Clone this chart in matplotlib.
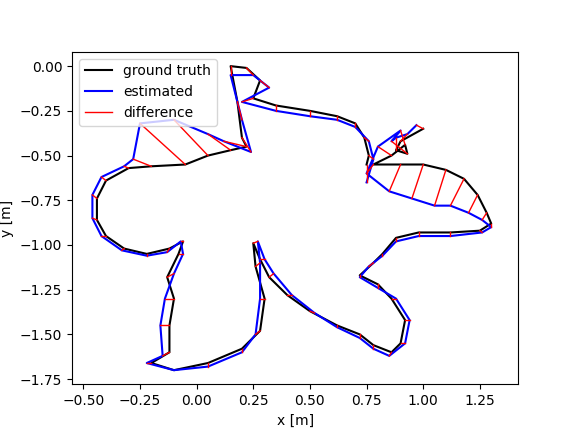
import matplotlib
matplotlib.use("Agg")
import matplotlib.pyplot as plt

gt_x = [1.00,0.90,0.88,0.93,0.92,0.86,0.78,0.90,1.00,1.10,1.18,1.24,1.28,1.30,1.25,1.12,0.98,0.88,0.82,0.78,0.72,0.80,0.86,0.92,0.90,0.86,0.78,0.72,0.62,0.50,0.40,0.32,0.28,0.25,0.26,0.30,0.28,0.20,0.05,-0.10,-0.20,-0.12,-0.12,-0.10,-0.13,-0.08,-0.06,-0.12,-0.22,-0.32,-0.40,-0.44,-0.44,-0.40,-0.30,-0.20,-0.05,0.05,0.15,0.22,0.20,0.18,0.15,0.22,0.28,0.25,0.35,0.50,0.62,0.70,0.74,0.76,0.75]
gt_y = [-0.35,-0.42,-0.47,-0.49,-0.44,-0.50,-0.55,-0.55,-0.55,-0.58,-0.63,-0.72,-0.82,-0.88,-0.92,-0.93,-0.93,-0.96,-1.05,-1.10,-1.17,-1.22,-1.30,-1.42,-1.55,-1.60,-1.56,-1.50,-1.45,-1.37,-1.28,-1.18,-1.08,-0.99,-1.12,-1.30,-1.48,-1.58,-1.66,-1.70,-1.66,-1.60,-1.45,-1.30,-1.18,-1.05,-0.98,-1.02,-1.05,-1.02,-0.95,-0.86,-0.74,-0.64,-0.57,-0.56,-0.55,-0.50,-0.47,-0.45,-0.40,-0.20,0.00,-0.01,-0.08,-0.18,-0.22,-0.25,-0.28,-0.32,-0.40,-0.50,-0.55]
est_x = [0.97,0.93,0.88,0.86,0.90,0.80,0.75,0.85,0.95,1.05,1.12,1.20,1.26,1.30,1.26,1.12,0.98,0.88,0.82,0.76,0.72,0.80,0.88,0.94,0.92,0.85,0.78,0.72,0.62,0.52,0.42,0.34,0.30,0.27,0.28,0.28,0.26,0.20,0.05,-0.10,-0.22,-0.15,-0.16,-0.14,-0.10,-0.06,-0.07,-0.13,-0.22,-0.33,-0.42,-0.46,-0.46,-0.42,-0.32,-0.28,-0.25,-0.10,0.05,0.12,0.24,0.20,0.15,0.25,0.32,0.20,0.35,0.50,0.62,0.70,0.76,0.78,0.75]
est_y = [-0.33,-0.38,-0.40,-0.42,-0.36,-0.45,-0.60,-0.70,-0.74,-0.78,-0.78,-0.82,-0.86,-0.90,-0.93,-0.95,-0.95,-0.98,-1.06,-1.12,-1.18,-1.24,-1.30,-1.42,-1.55,-1.62,-1.58,-1.52,-1.46,-1.38,-1.28,-1.16,-1.08,-0.98,-1.10,-1.30,-1.50,-1.60,-1.68,-1.70,-1.66,-1.62,-1.45,-1.30,-1.16,-1.05,-0.98,-1.04,-1.06,-1.03,-0.95,-0.85,-0.72,-0.62,-0.56,-0.52,-0.32,-0.30,-0.38,-0.42,-0.48,-0.30,-0.05,-0.05,-0.12,-0.20,-0.25,-0.28,-0.30,-0.34,-0.42,-0.52,-0.65]

fig, ax = plt.subplots(figsize=(5.76, 4.32), dpi=100)
ax.plot(gt_x, gt_y, color="black", label="ground truth")
ax.plot(est_x, est_y, color="blue", label="estimated")
for i in range(len(gt_x)):
    ax.plot([gt_x[i], est_x[i]], [gt_y[i], est_y[i]], color="red", lw=1,
            label="difference" if i == 0 else None)
ax.set_xlim(-0.55, 1.42)
ax.set_ylim(-1.78, 0.08)
ax.set_xlabel("x [m]")
ax.set_ylabel("y [m]")
ax.legend(loc="upper left")
fig.savefig("out.png")
